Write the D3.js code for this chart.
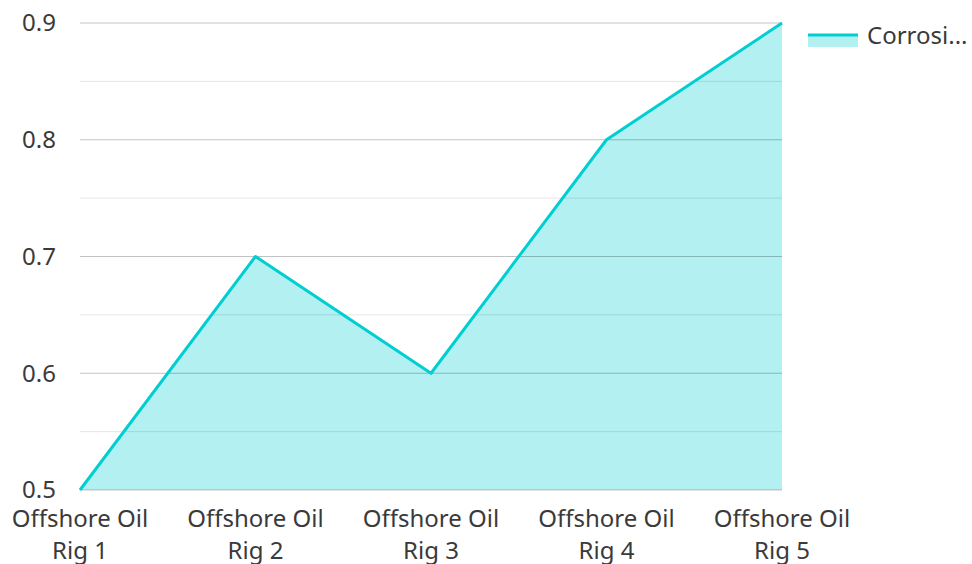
<!DOCTYPE html>
<html><head><meta charset="utf-8">
<script src="https://cdn.jsdelivr.net/npm/d3@7"></script>
<style>
body{margin:0;background:#fff;}
svg{display:block;font-family:"Noto Sans","Open Sans",sans-serif;}
</style></head><body>
<svg id="chart" width="972" height="564"></svg>
<script>
const categories = ["Offshore Oil Rig 1","Offshore Oil Rig 2","Offshore Oil Rig 3","Offshore Oil Rig 4","Offshore Oil Rig 5"];
const values = [0.5, 0.7, 0.6, 0.8, 0.9];
const seriesName = "Corrosion";
const yTicks = [0.5, 0.6, 0.7, 0.8, 0.9];
const yMinor = [0.55, 0.65, 0.75, 0.85];

(function(){
const svg = d3.select("#chart");
const pLeft = 80, pRight = 782, pTop = 23, pBottom = 490;
const x = d3.scalePoint().domain(categories).range([pLeft, pRight]);
const y = d3.scaleLinear().domain([0.5, 0.9]).range([pBottom, pTop]);
const lineColor = "rgb(0,206,209)";
const textColor = "#3a3a3a";

svg.append("path").datum(values)
  .attr("d", d3.area().x((d,i)=>x(categories[i])).y0(y(0.5)).y1(d=>y(d)))
  .attr("fill", lineColor).attr("fill-opacity", 0.3);

svg.append("g").selectAll("line").data(yMinor).join("line")
  .attr("x1", pLeft).attr("x2", pRight).attr("y1", d=>y(d)).attr("y2", d=>y(d))
  .attr("stroke", "rgba(0,0,0,0.1)").attr("stroke-width", 1);
svg.append("g").selectAll("line").data(yTicks).join("line")
  .attr("x1", pLeft).attr("x2", pRight).attr("y1", d=>y(d)).attr("y2", d=>y(d))
  .attr("stroke", "rgba(0,0,0,0.24)").attr("stroke-width", 1);

svg.append("path").datum(values)
  .attr("d", d3.line().x((d,i)=>x(categories[i])).y(d=>y(d)))
  .attr("fill", "none").attr("stroke", lineColor).attr("stroke-width", 3).attr("stroke-linejoin","round");

svg.append("g").selectAll("text").data(yTicks).join("text")
  .attr("x", 56).attr("y", d=>y(d)).attr("dy", "0.35em").attr("text-anchor", "end")
  .attr("font-size", 24).attr("fill", textColor).text(d=>d3.format(".1f")(d));

const xl = svg.append("g").selectAll("text").data(categories).join("text")
  .attr("text-anchor", "middle").attr("font-size", 24).attr("fill", textColor);
xl.each(function(d){
  const parts = [d.replace(/ Rig \d+$/, ""), d.match(/Rig \d+$/)[0]];
  const t = d3.select(this);
  parts.forEach((p,i)=>t.append("tspan").attr("x", x(d)).attr("y", 527 + i*32).text(p));
});

const lg = svg.append("g");
lg.append("rect").attr("x", 808).attr("y", 35).attr("width", 50).attr("height", 12)
  .attr("fill", lineColor).attr("fill-opacity", 0.3);
lg.append("line").attr("x1", 808).attr("x2", 858).attr("y1", 35).attr("y2", 35)
  .attr("stroke", lineColor).attr("stroke-width", 3);
lg.append("text").attr("x", 867).attr("y", 36).attr("dy", "0.35em").attr("font-size", 24)
  .attr("fill", textColor).text(seriesName.slice(0,7) + "...");
})();
</script>
</body></html>
